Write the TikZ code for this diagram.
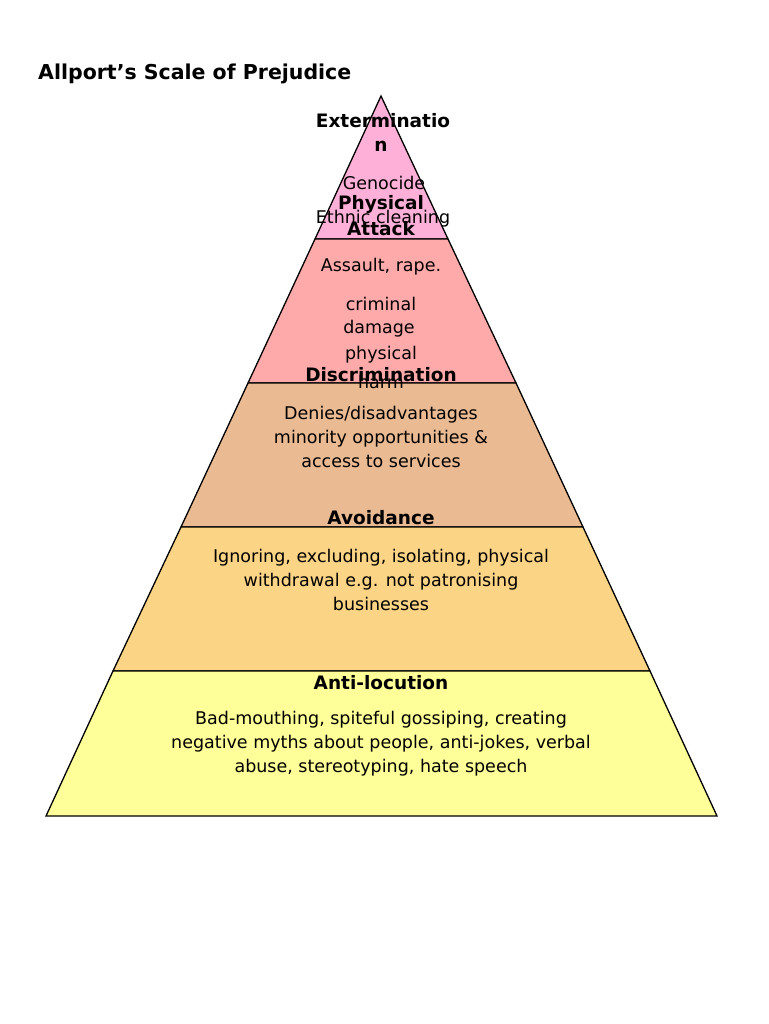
\documentclass[tikz,border=0pt]{standalone}
\usepackage{fontspec}
\setmainfont{DejaVu Sans}
\definecolor{cA}{RGB}{255,176,216}
\definecolor{cB}{RGB}{255,170,170}
\definecolor{cC}{RGB}{234,186,146}
\definecolor{cD}{RGB}{252,212,134}
\definecolor{cE}{RGB}{255,255,153}
\tikzset{lay/.style={draw=black,line width=1.3pt},
 t/.style={font=\fontsize{17.5}{24}\selectfont,align=center,inner sep=0pt},
 h/.style={font=\fontsize{18.5}{24}\bfseries\selectfont,inner sep=0pt}}
\begin{document}
\begin{tikzpicture}[x=1pt,y=-1pt]
\useasboundingbox (0,0) rectangle (768,1024);
\node[h,anchor=west,font=\fontsize{20.5}{24}\bfseries\selectfont] (title) at (38,74) {Allport’s Scale of Prejudice};
\fill[lay,fill=cA] (381,96) -- (448,239) -- (315,239) -- cycle;
\node[h] (ex1) at (383,121) {Exterminatio};
\node[h] (ex2) at (381,146) {n};
\node[t] (gen) at (384,183) {Genocide};
\node[t] (eth) at (383,219) {Ethnic cleaning};
\node[h] (pa1) at (381,204) {Physical};
\node[h] (pa2) at (381,229) {Attack};
\fill[lay,fill=cB] (315,239) -- (448,239) -- (516,383) -- (248,383) -- cycle;
\node[t] (b1) at (381,267) {Assault, rape.};
\node[t] (b2) at (381,304) {criminal};
\node[t] (b3) at (379,329) {damage};
\node[t] (b4) at (381,355) {physical};
\fill[lay,fill=cC] (248,383) -- (516,383) -- (583,527) -- (181,527) -- cycle;
\node[t] (b5) at (381,382) {harm};
\node[h] (dis) at (381,375) {Discrimination};
\node[t] (c1) at (381,437) {Denies/disadvantages\\minority opportunities \&\\access to services};
\fill[lay,fill=cD] (181,527) -- (583,527) -- (650,671) -- (113,671) -- cycle;
\node[h] (av) at (381,518) {Avoidance};
\node[t] (d1) at (381,580) {Ignoring, excluding, isolating, physical\\withdrawal e.g. not patronising\\businesses};
\fill[lay,fill=cE] (113,671) -- (650,671) -- (717,816) -- (46,816) -- cycle;
\node[h] (al) at (381,683) {Anti-locution};
\node[t] (e1) at (381,744) {Bad-mouthing, spiteful gossiping, creating\\negative myths about people, anti-jokes, verbal\\abuse, stereotyping, hate speech};
\end{tikzpicture}
\end{document}
